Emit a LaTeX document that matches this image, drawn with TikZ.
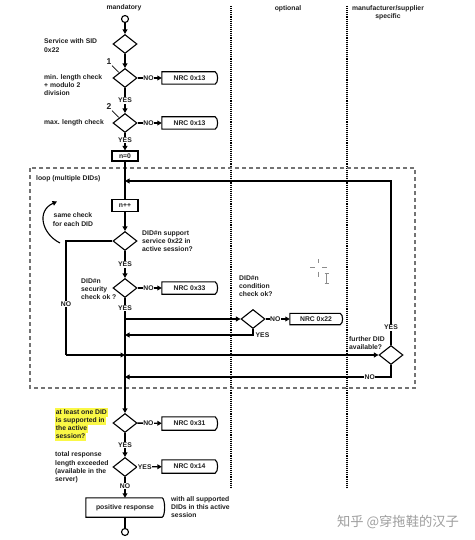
\documentclass[tikz,border=0pt]{standalone}
\usepackage{fontspec}
\setmainfont{Liberation Sans}
\newfontfamily\cjkfont{Noto Sans CJK SC}
\usetikzlibrary{shapes.geometric,arrows.meta,calc}
\newcommand\sigshape[1]{\draw[line width=1.1pt] (#1.north west) -- ([xshift=-2pt]#1.north east) .. controls ([xshift=1.2pt,yshift=-1.5pt]#1.north east) and ([xshift=1.2pt,yshift=1.5pt]#1.south east) .. ([xshift=-2pt]#1.south east) -- (#1.south west) -- cycle;}
\tikzset{
 base/.style={font=\fontsize{6.8}{8.2}\selectfont\bfseries, text=black!88},
 txt/.style={base, align=left, inner sep=0pt, anchor=west},
 lbl/.style={base, fill=white, inner sep=0.6pt},
 num/.style={font=\fontsize{8.5}{10}\selectfont\bfseries, text=black!88, inner sep=0.5pt},
 dia/.style={diamond, draw, line width=1.1pt, minimum width=24pt, minimum height=19pt, inner sep=0pt, fill=white},
 sig/.style={base, minimum width=55pt, minimum height=12pt, inner sep=0pt},
 sq/.style={base, draw, line width=1.1pt, minimum width=26pt, inner sep=0pt},
 term/.style={circle, draw, line width=1.1pt, minimum size=7pt, inner sep=0pt, fill=white},
 con/.style={line width=1.3pt},
 arr/.style={con, -{Triangle[length=4.5pt,width=4.8pt]}},
 lane/.style={densely dotted, line width=1.1pt},
 loopbox/.style={draw=black!55, line width=1.1pt, dash pattern=on 4pt off 3pt},
 hl/.style={base, anchor=west, fill={rgb,255:red,250;green,248;blue,70}, inner xsep=1pt, inner ysep=0.8pt, text height=5.2pt, text depth=1.6pt},
}
\begin{document}
\begin{tikzpicture}[x=1pt,y=-1pt]
\fill[white] (0,0) rectangle (474,540);
\useasboundingbox (0,0) rectangle (474,540);

% headers and lanes
\node[base] (hm) at (124,8) {mandatory};
\node[base] (ho) at (288,9) {optional};
\node[base,align=center] (hs) at (388,12.5) {manufacturer/supplier\\specific};
\coordinate (l1t) at (231,6); \coordinate (l1b) at (231,487);
\coordinate (l2t) at (347,6); \coordinate (l2b) at (347,487);
\draw[lane] (l1t) -- (l1b);
\draw[lane] (l2t) -- (l2b);

% loop frame
\coordinate (lp1) at (30,168); \coordinate (lp2) at (415,388);
\draw[loopbox] (lp1) rectangle (lp2);
\node[txt] (lpl) at (36,179) {loop (multiple DIDs)};

% nodes
\node[term] (st) at (125,19) {};
\node[dia] (d1) at (125,44) {};
\node[txt] (t1) at (44,45.5) {Service with SID\\0x22};
\node[dia] (d2) at (125,78) {};
\node[txt] (t2) at (44,85) {min. length check\\+ modulo 2\\division};
\node[sig] (n1) at (189.5,78) {NRC 0x13};
\node[num] (k1) at (109,62) {1};
\coordinate (k1e) at (119,72.5);
\node[dia] (d3) at (125,123) {};
\node[txt] (t3) at (44,123) {max. length check};
\node[sig] (n2) at (189.5,123) {NRC 0x13};
\node[num] (k2) at (109,107) {2};
\coordinate (k2e) at (119,117.5);
\node[sq, minimum height=10pt] (n0) at (125,156) {n=0};
\node[sq, minimum height=12.5pt] (npp) at (125,205.5) {n++};
\node[dia] (d4) at (125,241) {};
\node[txt] (t4) at (142,241) {DID\#n support\\service 0x22 in\\active session?};
\node[base,align=center] (sc) at (73,219.5) {same check\\for each DID};
\node[dia] (d5) at (125,288) {};
\node[txt] (t5) at (81,289) {DID\#n\\security\\check ok ?};
\node[sig] (n3) at (189.5,288) {NRC 0x33};
\node[dia] (d6) at (253,319) {};
\node[txt] (t6) at (239,286) {DID\#n\\condition\\check ok?};
\node[sig, minimum width=52pt, minimum height=11pt] (n4) at (316,319) {NRC 0x22};
\node[dia] (d7) at (391,355) {};
\node[txt] (t7) at (349,343) {further DID\\available?};
\node[dia] (d8) at (125,423) {};
\node[hl] (h1) at (54.7,412.3) {at least one DID};
\node[hl] (h2) at (54.7,420.5) {is supported in};
\node[hl] (h3) at (54.7,428.7) {the active};
\node[hl] (h4) at (54.7,436.9) {session?};
\node[sig, minimum height=13pt] (n5) at (189.5,423.5) {NRC 0x31};
\node[dia] (d9) at (125,467) {};
\node[txt] (t9) at (55,467.5) {total response\\length exceeded\\(available in the\\server)};
\node[sig, minimum height=13pt] (n6) at (189.5,466.5) {NRC 0x14};
\node[sig, minimum width=78pt, minimum height=19pt] (pos) at (125,507.5) {positive response};
\node[txt] (t10) at (171,507) {with all supported\\DIDs in this active\\session};
\node[term] (en) at (125,532) {};

\foreach \n in {n1,n2,n3,n4,n5,n6,pos} {\sigshape{\n}}

% connectors
\draw[arr] (st) -- (d1);
\draw[arr] (d1) -- (d2);
\draw[line width=0.7pt] (k1.south east) -- (k1e);
\draw[line width=0.7pt] (k2.south east) -- (k2e);
\draw[arr] (d2) -- node[lbl,pos=0.45]{NO} (n1);
\draw[arr] (d2) -- node[lbl]{YES} (d3);
\draw[arr] (d3) -- node[lbl,pos=0.45]{NO} (n2);
\draw[arr] (d3) -- node[lbl,pos=0.38]{YES} (n0);
\draw[con] (n0) -- (npp);
\coordinate (lb1) at (391,181); \coordinate (lb2) at (125,181);
\draw[arr] (d7.north) -- node[lbl,pos=0.106]{YES} (lb1) -- (lb2);
\draw[arr] (npp) -- (d4);
\draw[arr] (d4) -- node[lbl]{YES} (d5);
\coordinate (c1) at (66,241); \coordinate (c2) at (66,355); \coordinate (j3) at (125,355);
\draw[con] (d4.west) -- (c1) -- node[lbl,pos=0.55]{NO} (c2);
\draw[arr] (c2) -- (j3);
\draw[arr] (j3) -- (d7.west);
\draw[arr] (d5) -- node[lbl,pos=0.45]{NO} (n3);
\draw[arr] (d5) -- node[lbl,pos=0.09]{YES} (d8);
\coordinate (j1) at (125,319);
\draw[arr] (j1) -- (d6.west);
\draw[arr] (d6) -- node[lbl,pos=0.4]{NO} (n4);
\coordinate (c3) at (253,335); \coordinate (j2) at (125,335);
\draw[arr] (d6.south) -- (c3) -- (j2);
\node[txt] (y6) at (255.5,335.5) {YES};
\coordinate (c4) at (391,377); \coordinate (j4) at (125,377);
\draw[arr] (d7.south) -- (c4) -- node[lbl,pos=0.08]{NO} (j4);
\draw[arr] (d8) -- node[lbl,pos=0.45]{NO} (n5);
\draw[arr] (d8) -- node[lbl]{YES} (d9);
\draw[arr] (d9) -- node[lbl,pos=0.3]{YES} (n6);
\draw[arr] (d9) -- node[lbl,pos=0.44]{NO} (pos);
\draw[con] (pos) -- (en);

% curved hint arrow
\coordinate (ca1) at (60,243); \coordinate (ca2) at (57,201.5);
\draw[arr, line width=1.1pt] (ca1) .. controls (42,234) and (36,211) .. (ca2);

% cursor marks
\draw[black!45, line width=0.8pt] (310,267) -- (315,267) (322,267) -- (327,267) (318.7,259) -- (318.7,263) (318.7,271.5) -- (318.7,276.5);
\draw[black!45, line width=0.7pt] (326.7,273.5) -- (326.7,283) (324.7,273.5) -- (328.7,273.5) (324.7,283) -- (328.7,283);

% watermark
\node[text=black!38, font=\cjkfont\fontsize{13.3}{15}\selectfont] (wm) at (398,522) {知乎 @穿拖鞋的汉子};
\end{tikzpicture}
\end{document}
